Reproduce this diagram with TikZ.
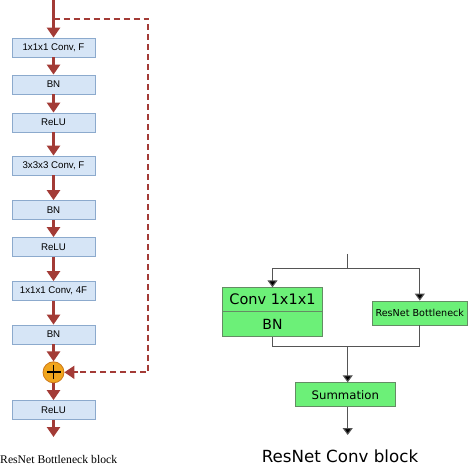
\documentclass[tikz,border=0pt]{standalone}
\usepackage{fontspec}
\setmainfont{Liberation Serif}
\newfontfamily\arialf{Liberation Sans}
\newfontfamily\verdf{DejaVu Sans}
\usetikzlibrary{arrows.meta}
\definecolor{arrred}{RGB}{163,59,54}
\definecolor{boxblue}{RGB}{214,229,246}
\definecolor{boxbord}{RGB}{140,170,205}
\definecolor{grnfill}{RGB}{108,240,120}
\definecolor{grnbord}{RGB}{100,140,100}
\definecolor{plusfill}{RGB}{240,165,30}
\definecolor{plusbord}{RGB}{205,120,25}
\definecolor{lgray}{RGB}{85,85,85}
\tikzset{
  bbox/.style={draw=boxbord, fill=boxblue, line width=0.8pt, minimum width=83pt, minimum height=19pt, inner sep=0pt, font=\arialf\fontsize{9.7}{11}\selectfont},
  redarr/.style={draw=arrred, line width=2.6pt, -{Triangle[width=13pt,length=10pt]}},
  dashln/.style={draw=arrred, line width=1.8pt, dash pattern=on 6pt off 4pt},
  gbox/.style={draw=grnbord, fill=grnfill, line width=0.8pt, inner sep=0pt},
  blkarr/.style={draw=lgray, line width=1.1pt, -{Triangle[width=10pt,length=7pt,fill=black]}},
  blkln/.style={draw=lgray, line width=1.1pt},
}
\begin{document}
\begin{tikzpicture}[x=1pt,y=-1pt]
\useasboundingbox (0,0) rectangle (474,465);
% left column
\coordinate (top) at (53.5,0);
\coordinate (br) at (53.5,19);
\coordinate (dc) at (148,19);
\node[bbox] (b1) at (53.5,47.5) {1x1x1 Conv, F};
\node[bbox] (b2) at (53.5,84.5) {BN};
\node[bbox] (b3) at (53.5,122.5) {ReLU};
\node[bbox] (b4) at (53.5,165.5) {3x3x3 Conv, F};
\node[bbox] (b5) at (53.5,210) {BN};
\node[bbox] (b6) at (53.5,247) {ReLU};
\node[bbox] (b7) at (53.5,291) {1x1x1 Conv, 4F};
\node[bbox] (b8) at (53.5,334.5) {BN};
\node[circle, draw=plusbord, fill=plusfill, line width=0.8pt, minimum size=21pt, inner sep=0pt] (plus) at (53.5,372.3) {};
\draw[black, line width=1.8pt] ([xshift=-7pt]plus.center) -- ([xshift=7pt]plus.center);
\draw[black, line width=1.8pt] ([yshift=-7pt]plus.center) -- ([yshift=7pt]plus.center);
\node[bbox] (b9) at (53.5,410) {ReLU};
\coordinate (bend) at (53.5,437);
\draw[redarr] (top) -- (b1);
\draw[redarr] (b1) -- (b2);
\draw[redarr] (b2) -- (b3);
\draw[redarr] (b3) -- (b4);
\draw[redarr] (b4) -- (b5);
\draw[redarr] (b5) -- (b6);
\draw[redarr] (b6) -- (b7);
\draw[redarr] (b7) -- (b8);
\draw[redarr] (b8) -- (plus);
\draw[redarr] (plus) -- (b9);
\draw[redarr] (b9) -- (bend);
\draw[dashln] (br) -- (dc) -- (dc |- plus) -- ([xshift=14pt]plus.east);
\draw[arrred, line width=1.8pt, -{Triangle[width=13pt,length=10pt]}] ([xshift=14pt]plus.east) -- (plus.east);
\node[anchor=west, inner sep=0pt, font=\fontsize{11.7}{13}\selectfont] (cap1) at (0,459) {ResNet Bottleneck block};
% right diagram
\coordinate (rtop) at (347.7,254);
\coordinate (rsplit) at (347.7,268.3);
\node[gbox, minimum width=99.6pt, minimum height=24pt, font=\verdf\fontsize{14.5}{16}\selectfont] (conv) at (272.5,299.7) {Conv 1x1x1};
\node[gbox, minimum width=99.6pt, minimum height=25pt, font=\verdf\fontsize{14}{16}\selectfont] (bn) at (272.5,324.2) {BN};
\node[gbox, minimum width=95pt, minimum height=24pt, font=\verdf\fontsize{9.6}{11}\selectfont] (rb) at (419.8,313) {ResNet Bottleneck};
\coordinate (mrg) at (347.7,346.7);
\node[gbox, minimum width=100.7pt, minimum height=24pt, font=\verdf\fontsize{11.7}{13}\selectfont] (sum) at (345.3,394.7) {Summation};
\coordinate (rend) at (347.7,435);
\draw[blkln] (rtop) -- (rsplit);
\draw[blkarr] (rsplit) -| (conv.north);
\draw[blkarr] (rsplit) -| (rb.north);
\draw[blkln] (bn.south) |- (mrg) -| (rb.south);
\draw[blkarr] (mrg) -- (sum.north -| mrg);
\draw[blkarr] (sum.south -| rend) -- (rend);
\node[font=\verdf\fontsize{16.7}{19}\selectfont, inner sep=0pt] (cap2) at (340,456) {ResNet Conv block};
\end{tikzpicture}
\end{document}
